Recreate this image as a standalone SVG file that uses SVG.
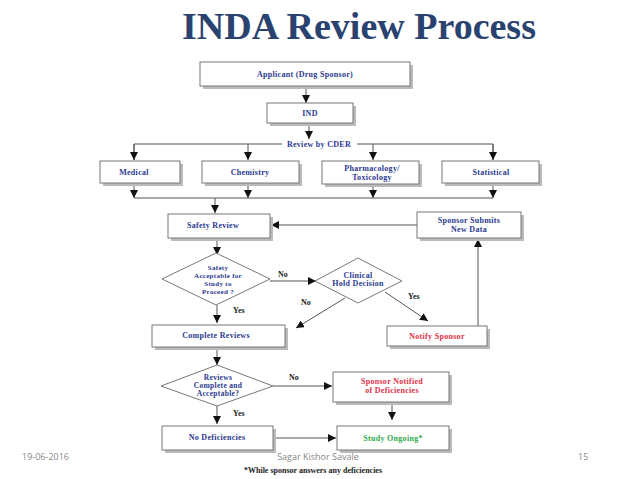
<svg xmlns="http://www.w3.org/2000/svg" width="638" height="479" viewBox="0 0 638 479">
<defs>
<style>
.b{fill:#fff;stroke:#777;stroke-width:1}
.s{fill:#bbb}
.t{font-family:"Liberation Serif",serif;font-weight:bold;font-size:8px;fill:#2b3990;text-anchor:middle;letter-spacing:0.3px}
.r{fill:#e0304a}
.g{fill:#2aa84a}
.l{font-family:"Liberation Serif",serif;font-weight:bold;font-size:8px;fill:#222}
.c line,.c polyline{stroke:#555;stroke-width:1;fill:none}
.f{font-family:"Open Sans","Liberation Sans",sans-serif;font-size:9px;fill:#888}
</style>
<marker id="a" viewBox="0 0 10 10" refX="10" refY="5" markerWidth="8" markerHeight="8" markerUnits="userSpaceOnUse" orient="auto"><path d="M0,0 L10,5 L0,10 z" fill="#111"/></marker>
</defs>
<rect width="638" height="479" fill="#fff"/>
<text x="359" y="39" text-anchor="middle" font-family="Liberation Serif,serif" font-weight="bold" font-size="38" fill="#2a4270">INDA Review Process</text>

<g class="c">
<line x1="306" y1="86" x2="306" y2="103" marker-end="url(#a)"/>
<line x1="309" y1="125" x2="309" y2="139" marker-end="url(#a)"/>
<polyline points="282,144 134,144 134,160"/>
<polyline points="357,144 493,144 493,160"/>
<line x1="134" y1="144" x2="134" y2="160" marker-end="url(#a)"/>
<line x1="248" y1="144" x2="248" y2="160" marker-end="url(#a)"/>
<line x1="373" y1="144" x2="373" y2="160" marker-end="url(#a)"/>
<line x1="493" y1="144" x2="493" y2="160" marker-end="url(#a)"/>
<line x1="134" y1="183" x2="134" y2="198" marker-end="url(#a)"/>
<line x1="248" y1="183" x2="248" y2="198" marker-end="url(#a)"/>
<line x1="373" y1="184" x2="373" y2="198" marker-end="url(#a)"/>
<line x1="493" y1="183" x2="493" y2="198" marker-end="url(#a)"/>
<line x1="134" y1="198" x2="493" y2="198"/>
<line x1="215" y1="198" x2="215" y2="213" marker-end="url(#a)"/>
<line x1="417" y1="225" x2="271" y2="225" marker-end="url(#a)"/>
<line x1="217" y1="238" x2="217" y2="255" marker-end="url(#a)"/>
<line x1="270" y1="281" x2="316" y2="281" marker-end="url(#a)"/>
<line x1="345" y1="298" x2="296" y2="328" marker-end="url(#a)"/>
<line x1="385" y1="292" x2="428" y2="321" marker-end="url(#a)"/>
<line x1="478" y1="326" x2="478" y2="239" marker-end="url(#a)"/>
<line x1="217" y1="305" x2="217" y2="323" marker-end="url(#a)"/>
<line x1="217" y1="347" x2="217" y2="365" marker-end="url(#a)"/>
<line x1="273" y1="386" x2="332" y2="386" marker-end="url(#a)"/>
<line x1="392" y1="402" x2="392" y2="420" marker-end="url(#a)"/>
<line x1="217" y1="406" x2="217" y2="424" marker-end="url(#a)"/>
<line x1="273" y1="438" x2="336" y2="438" marker-end="url(#a)"/>
</g>

<g id="applicant"><rect class="s" x="203" y="65" width="210" height="24"/><rect class="b" x="200" y="62" width="210" height="24"/><text class="t" x="305" y="77">Applicant (Drug Sponsor)</text></g>
<g id="ind"><rect class="s" x="270" y="106" width="86" height="20"/><rect class="b" x="267" y="103" width="86" height="20"/><text class="t" x="310" y="116">IND</text></g>
<text id="cder" class="t" x="319" y="147">Review by CDER</text>
<g id="medical"><rect class="s" x="103" y="164" width="80" height="22"/><rect class="b" x="100" y="161" width="80" height="22"/><text class="t" x="134" y="175">Medical</text></g>
<g id="chemistry"><rect class="s" x="205" y="164" width="97" height="22"/><rect class="b" x="202" y="161" width="97" height="22"/><text class="t" x="250" y="175">Chemistry</text></g>
<g id="pharm"><rect class="s" x="325" y="164" width="97" height="23"/><rect class="b" x="322" y="161" width="97" height="23"/><text class="t" x="372" y="171">Pharmacology/</text><text class="t" x="372" y="180">Toxicology</text></g>
<g id="statistical"><rect class="s" x="445" y="164" width="97" height="22"/><rect class="b" x="442" y="161" width="97" height="22"/><text class="t" x="491" y="175">Statistical</text></g>
<g id="safety"><rect class="s" x="171" y="217" width="102" height="24"/><rect class="b" x="168" y="214" width="102" height="24"/><text class="t" x="213" y="228">Safety Review</text></g>
<g id="submits"><rect class="s" x="420" y="215" width="104" height="26"/><rect class="b" x="417" y="212" width="104" height="26"/><text class="t" x="469" y="223">Sponsor Submits</text><text class="t" x="469" y="232">New Data</text></g>
<g id="d1"><polygon class="b" points="162,279 216,253 270,279 216,305"/><g font-size="7"><text class="t" x="218" y="270" style="font-size:7px">Safety</text><text class="t" x="218" y="278" style="font-size:7px">Acceptable for</text><text class="t" x="218" y="286" style="font-size:7px">Study to</text><text class="t" x="218" y="294" style="font-size:7px">Proceed ?</text></g></g>
<g id="d2"><polygon class="b" points="315,281 358,258 402,281 358,303"/><text class="t" x="358" y="278">Clinical</text><text class="t" x="358" y="286">Hold Decision</text></g>
<g id="notify"><rect class="s" x="390" y="329" width="100" height="20"/><rect class="b" x="387" y="326" width="100" height="20"/><text class="t r" x="437" y="339">Notify Sponsor</text></g>
<g id="complete"><rect class="s" x="155" y="328" width="133" height="22"/><rect class="b" x="152" y="325" width="133" height="22"/><text class="t" x="216" y="338">Complete Reviews</text></g>
<g id="d3"><polygon class="b" points="161,386 217,365 273,386 217,406"/><text class="t" x="218" y="380" style="font-size:7.5px">Reviews</text><text class="t" x="218" y="388" style="font-size:7.5px">Complete and</text><text class="t" x="218" y="396" style="font-size:7.5px">Acceptable?</text></g>
<g id="notified"><rect class="s" x="336" y="375" width="116" height="30"/><rect class="b" x="333" y="372" width="116" height="30"/><text class="t r" x="392" y="384">Sponsor Notified</text><text class="t r" x="392" y="393">of Deficiencies</text></g>
<g id="nodef"><rect class="s" x="165" y="429" width="111" height="24"/><rect class="b" x="162" y="426" width="111" height="24"/><text class="t" x="217" y="440">No Deficiencies</text></g>
<g id="ongoing"><rect class="s" x="340" y="429" width="112" height="24"/><rect class="b" x="337" y="426" width="112" height="24"/><text class="t g" x="393" y="441">Study Ongoing*</text></g>

<text class="l" x="278" y="277">No</text>
<text class="l" x="301" y="305">No</text>
<text class="l" x="408" y="299">Yes</text>
<text class="l" x="233" y="313">Yes</text>
<text class="l" x="289" y="380">No</text>
<text class="l" x="233" y="416">Yes</text>
<text class="l" x="313" y="473" text-anchor="middle" font-size="7">*While sponsor answers any deficiencies</text>
<text class="f" x="22" y="460">19-06-2016</text>
<text class="f" x="318" y="460" text-anchor="middle">Sagar Kishor Savale</text>
<text class="f" x="578" y="460">15</text>
</svg>
